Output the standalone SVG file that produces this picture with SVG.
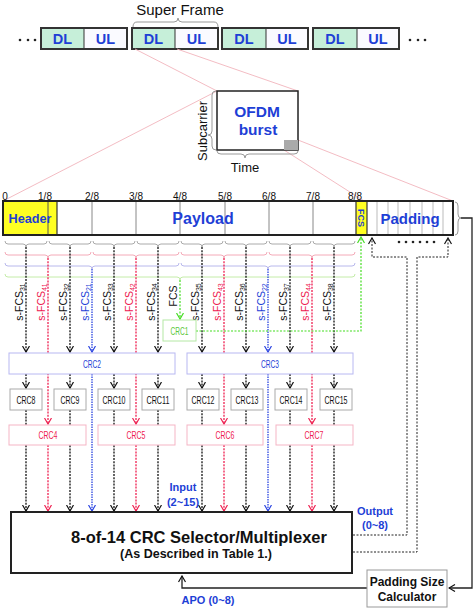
<svg xmlns="http://www.w3.org/2000/svg" width="474" height="610" viewBox="0 0 474 610">
<style>
text{font-family:"Liberation Sans",Arial,sans-serif}
.b{font-weight:bold}
.blue{fill:#1e3fd6}
.red{fill:#ee2050}
.blk{fill:#111}
.pink{stroke:#f2b4bc;stroke-width:0.9;fill:none}
.brace{fill:none;stroke-width:1}
.dk{stroke:#111;stroke-width:1.3;stroke-dasharray:2 1.2;fill:none}
.dr{stroke:#ee2050;stroke-width:1.3;stroke-dasharray:2 1.2;fill:none}
.db{stroke:#2a44e0;stroke-width:1.3;stroke-dasharray:1.5 1;fill:none}
.dg{stroke:#44dd22;stroke-width:1.2;stroke-dasharray:2 1.5;fill:none}
.dd{stroke:#222;stroke-width:1;stroke-dasharray:2 1.5;fill:none}
.crcg{fill:#fff;stroke:#aaa;stroke-width:1}
.crcb{fill:#fff;stroke:#b8b8f2;stroke-width:1}
.crcr{fill:#fff;stroke:#f5b5c5;stroke-width:1}
.crct{font-size:10.5px;text-anchor:middle}
.lab{font-size:10.5px;text-anchor:middle}
</style>
<defs>
<marker id="ak" viewBox="0 0 8 8" refX="6.5" refY="4" markerWidth="8" markerHeight="8" markerUnits="userSpaceOnUse" orient="auto"><path d="M0.5,0.5 L6.5,4 L0.5,7.5" fill="none" stroke="#111" stroke-width="1.2"/></marker>
<marker id="ar" viewBox="0 0 8 8" refX="6.5" refY="4" markerWidth="8" markerHeight="8" markerUnits="userSpaceOnUse" orient="auto"><path d="M0.5,0.5 L6.5,4 L0.5,7.5" fill="none" stroke="#ee2050" stroke-width="1.2"/></marker>
<marker id="ab" viewBox="0 0 8 8" refX="6.5" refY="4" markerWidth="8" markerHeight="8" markerUnits="userSpaceOnUse" orient="auto"><path d="M0.5,0.5 L6.5,4 L0.5,7.5" fill="none" stroke="#2a44e0" stroke-width="1.2"/></marker>
<marker id="ag" viewBox="0 0 8 8" refX="6.5" refY="4" markerWidth="8" markerHeight="8" markerUnits="userSpaceOnUse" orient="auto"><path d="M0.5,0.5 L6.5,4 L0.5,7.5" fill="none" stroke="#44dd22" stroke-width="1.2"/></marker>
</defs>
<rect width="474" height="610" fill="#fff"/>

<!-- Super frame -->
<g id="superframe">
<text x="180" y="15" font-size="15" text-anchor="middle" fill="#111">Super Frame</text>
<path d="M133,27 Q133,22 137,22 L174,22 Q178,22 178,18 Q178,22 182,22 L214,22 Q218,22 218,27" fill="none" stroke="#999" stroke-width="1"/>
<g fill="#222"><circle cx="20" cy="40" r="1.3"/><circle cx="28" cy="40" r="1.3"/><circle cx="35" cy="40" r="1.3"/><circle cx="410" cy="40" r="1.3"/><circle cx="418" cy="40" r="1.3"/><circle cx="425" cy="40" r="1.3"/></g>
<g id="frame1"><rect x="41" y="28" width="43" height="21" fill="#c6efd9"/><rect x="84" y="28" width="43" height="21" fill="#fafaff"/><line x1="84" y1="28" x2="84" y2="49" stroke="#333"/><rect x="41" y="28" width="86" height="21" fill="none" stroke="#333" stroke-width="2"/><text x="62.5" y="44" class="b blue" font-size="14.5" text-anchor="middle">DL</text><text x="105.5" y="44" class="b blue" font-size="14.5" text-anchor="middle">UL</text></g>
<g id="frame2"><rect x="132" y="28" width="43" height="21" fill="#c6efd9"/><rect x="175" y="28" width="43" height="21" fill="#fafaff"/><line x1="175" y1="28" x2="175" y2="49" stroke="#333"/><rect x="132" y="28" width="86" height="21" fill="none" stroke="#333" stroke-width="2"/><text x="153.5" y="44" class="b blue" font-size="14.5" text-anchor="middle">DL</text><text x="196.5" y="44" class="b blue" font-size="14.5" text-anchor="middle">UL</text></g>
<g id="frame3"><rect x="222" y="28" width="44" height="21" fill="#c6efd9"/><rect x="266" y="28" width="42" height="21" fill="#fafaff"/><line x1="266" y1="28" x2="266" y2="49" stroke="#333"/><rect x="222" y="28" width="86" height="21" fill="none" stroke="#333" stroke-width="2"/><text x="244" y="44" class="b blue" font-size="14.5" text-anchor="middle">DL</text><text x="287" y="44" class="b blue" font-size="14.5" text-anchor="middle">UL</text></g>
<g id="frame4"><rect x="313" y="28" width="44" height="21" fill="#c6efd9"/><rect x="357" y="28" width="42" height="21" fill="#fafaff"/><line x1="357" y1="28" x2="357" y2="49" stroke="#333"/><rect x="313" y="28" width="86" height="21" fill="none" stroke="#333" stroke-width="2"/><text x="335" y="44" class="b blue" font-size="14.5" text-anchor="middle">DL</text><text x="378" y="44" class="b blue" font-size="14.5" text-anchor="middle">UL</text></g>
</g>

<!-- zoom lines -->
<g id="zoomlines">
<line class="pink" x1="135" y1="49" x2="217" y2="91"/>
<line class="pink" x1="177" y1="49" x2="298" y2="91"/>
<line class="pink" x1="3" y1="201" x2="217" y2="91"/>
<line class="pink" x1="284" y1="150" x2="364" y2="201"/>
<line class="pink" x1="298" y1="140" x2="453" y2="201"/>
</g>

<!-- OFDM burst -->
<g id="ofdm">
<rect x="217" y="91" width="81" height="59" fill="#fff" stroke="#222" stroke-width="1.5"/>
<rect x="284" y="140" width="14" height="10" fill="#aaa"/>
<text x="257" y="117" class="b blue" font-size="15.5" text-anchor="middle">OFDM</text>
<text x="258" y="135" class="b blue" font-size="15.5" text-anchor="middle">burst</text>
<path d="M216,91 Q212,91 212,95 L212,131 Q212,135 208,135 Q212,135 212,139 L212,146 Q212,150 216,150" fill="none" stroke="#999"/>
<text transform="translate(207,131) rotate(-90)" font-size="13" text-anchor="middle" fill="#111">Subcarrier</text>
<path d="M217,151 Q217,154 221,154 L241,154 Q245,154 245,158 Q245,154 249,154 L294,154 Q298,154 298,151" fill="none" stroke="#999"/>
<text x="245" y="172" font-size="13" text-anchor="middle" fill="#111">Time</text>
</g>

<!-- Frame bar -->
<g id="framebar">
<g font-size="10" text-anchor="middle" fill="#111">
<text x="5" y="200">0</text><text x="45" y="200">1/8</text><text x="92" y="200">2/8</text><text x="136" y="200">3/8</text><text x="180" y="200">4/8</text><text x="225" y="200">5/8</text><text x="269" y="200">6/8</text><text x="313" y="200">7/8</text><text x="355" y="200">8/8</text>
</g>
<rect x="3" y="201" width="450" height="34" fill="#fff"/>
<rect x="3" y="201" width="54" height="34" fill="#ffff22"/>
<rect x="356" y="201" width="11" height="34" fill="#ffff22"/>
<g stroke="#888" stroke-width="1">
<line x1="92" y1="202" x2="92" y2="234"/><line x1="136" y1="202" x2="136" y2="234"/><line x1="180" y1="202" x2="180" y2="234"/><line x1="225" y1="202" x2="225" y2="234"/><line x1="269" y1="202" x2="269" y2="234"/><line x1="313" y1="202" x2="313" y2="234"/>
</g>
<g stroke="#aaa" stroke-width="0.8">
<line x1="377" y1="202" x2="377" y2="234"/><line x1="388" y1="202" x2="388" y2="234"/><line x1="398" y1="202" x2="398" y2="234"/><line x1="410" y1="202" x2="410" y2="234"/><line x1="422" y1="202" x2="422" y2="234"/><line x1="433" y1="202" x2="433" y2="234"/><line x1="443" y1="202" x2="443" y2="234"/>
</g>
<line x1="48" y1="202" x2="48" y2="234" stroke="#555"/>
<line x1="57" y1="201" x2="57" y2="235" stroke="#333" stroke-width="1.2"/>
<line x1="356" y1="201" x2="356" y2="235" stroke="#333" stroke-width="1.2"/>
<line x1="367" y1="201" x2="367" y2="235" stroke="#333" stroke-width="1.2"/>
<rect x="3" y="201" width="450" height="34" fill="none" stroke="#222" stroke-width="2"/>
<text x="30" y="223" class="b blue" font-size="13" text-anchor="middle" textLength="43" lengthAdjust="spacingAndGlyphs">Header</text>
<text x="203" y="224" class="b blue" font-size="16" text-anchor="middle">Payload</text>
<text x="410" y="224" class="b blue" font-size="15" text-anchor="middle">Padding</text>
<text transform="translate(358,218) rotate(90)" class="b blue" font-size="9" text-anchor="middle">FCS</text>
<path d="M455,202 Q458,202 458,206 L458,214 Q458,218 461,218 Q458,218 458,222 L458,231 Q458,235 455,235" fill="none" stroke="#999"/>
</g>

<!-- braces under bar -->
<g id="braces">
<path class="brace" stroke="#aaa" d="M5,241 Q5,244 8,244 L23,244 Q26,244 26,247 Q26,244 29,244 L44,244 Q47,244 47,241 M49,241 Q49,244 52,244 L67,244 Q70,244 70,247 Q70,244 73,244 L88,244 Q91,244 91,241 M93,241 Q93,244 96,244 L111,244 Q114,244 114,247 Q114,244 117,244 L132,244 Q135,244 135,241 M137,241 Q137,244 140,244 L155,244 Q158,244 158,247 Q158,244 161,244 L176,244 Q179,244 179,241 M181,241 Q181,244 184,244 L199,244 Q202,244 202,247 Q202,244 205,244 L220,244 Q223,244 223,241 M225,241 Q225,244 228,244 L243,244 Q246,244 246,247 Q246,244 249,244 L264,244 Q267,244 267,241 M269,241 Q269,244 272,244 L287,244 Q290,244 290,247 Q290,244 293,244 L308,244 Q311,244 311,241 M313,241 Q313,244 316,244 L331,244 Q334,244 334,247 Q334,244 337,244 L352,244 Q355,244 355,241"/>
<path class="brace" stroke="#f4aab8" d="M5,252 Q5,255 8,255 L45,255 Q48,255 48,258 Q48,255 51,255 L88,255 Q91,255 91,252 M93,252 Q93,255 96,255 L133,255 Q136,255 136,258 Q136,255 139,255 L176,255 Q179,255 179,252 M181,252 Q181,255 184,255 L221,255 Q224,255 224,258 Q224,255 227,255 L264,255 Q267,255 267,252 M269,252 Q269,255 272,255 L309,255 Q312,255 312,258 Q312,255 315,255 L352,255 Q355,255 355,252"/>
<path class="brace" stroke="#b8b8ec" d="M5,263 Q5,266 8,266 L89,266 Q92,266 92,269 Q92,266 95,266 L176,266 Q179,266 179,263 M181,263 Q181,266 184,266 L265,266 Q268,266 268,269 Q268,266 271,266 L352,266 Q355,266 355,263"/>
<path class="brace" stroke="#c4eca8" d="M5,274 Q5,277 8,277 L177,277 Q180,277 180,280 Q180,277 183,277 L352,277 Q355,277 355,274"/>
</g>

<!-- connectors -->
<g id="connectors">
<path class="dk" d="M26,247 V352" marker-end="url(#ak)"/>
<path class="dk" d="M26,374 V388" marker-end="url(#ak)"/>
<path class="dk" d="M26,410 V511" marker-end="url(#ak)"/>
<path class="dk" d="M70,247 V352" marker-end="url(#ak)"/>
<path class="dk" d="M70,374 V388" marker-end="url(#ak)"/>
<path class="dk" d="M70,410 V511" marker-end="url(#ak)"/>
<path class="dk" d="M114,247 V352" marker-end="url(#ak)"/>
<path class="dk" d="M114,374 V388" marker-end="url(#ak)"/>
<path class="dk" d="M114,410 V511" marker-end="url(#ak)"/>
<path class="dk" d="M158,247 V352" marker-end="url(#ak)"/>
<path class="dk" d="M158,374 V388" marker-end="url(#ak)"/>
<path class="dk" d="M158,410 V511" marker-end="url(#ak)"/>
<path class="dk" d="M202,247 V352" marker-end="url(#ak)"/>
<path class="dk" d="M202,374 V388" marker-end="url(#ak)"/>
<path class="dk" d="M202,410 V511" marker-end="url(#ak)"/>
<path class="dk" d="M246,247 V352" marker-end="url(#ak)"/>
<path class="dk" d="M246,374 V388" marker-end="url(#ak)"/>
<path class="dk" d="M246,410 V511" marker-end="url(#ak)"/>
<path class="dk" d="M290,247 V352" marker-end="url(#ak)"/>
<path class="dk" d="M290,374 V388" marker-end="url(#ak)"/>
<path class="dk" d="M290,410 V511" marker-end="url(#ak)"/>
<path class="dk" d="M334,247 V352" marker-end="url(#ak)"/>
<path class="dk" d="M334,374 V388" marker-end="url(#ak)"/>
<path class="dk" d="M334,410 V511" marker-end="url(#ak)"/>
<path class="dr" d="M48,258 V424" marker-end="url(#ar)"/>
<path class="dr" d="M48,445 V511" marker-end="url(#ar)"/>
<path class="dr" d="M136,258 V424" marker-end="url(#ar)"/>
<path class="dr" d="M136,445 V511" marker-end="url(#ar)"/>
<path class="dr" d="M224,258 V424" marker-end="url(#ar)"/>
<path class="dr" d="M224,445 V511" marker-end="url(#ar)"/>
<path class="dr" d="M312,258 V424" marker-end="url(#ar)"/>
<path class="dr" d="M312,445 V511" marker-end="url(#ar)"/>
<path class="db" d="M92,269 V352" marker-end="url(#ab)"/>
<path class="db" d="M92,374 V511" marker-end="url(#ab)"/>
<path class="db" d="M268,269 V352" marker-end="url(#ab)"/>
<path class="db" d="M268,374 V511" marker-end="url(#ab)"/>
<path class="dg" d="M180,280 V319" marker-end="url(#ag)"/>
<path class="dg" d="M196,331 H361 V237" marker-end="url(#ag)"/>
<path class="dd" d="M353,535 H407 V257 H372 V238" marker-end="url(#ak)"/>
<path class="dd" d="M353,552 H417 V257 H448 V238" marker-end="url(#ak)"/>
<g fill="#222"><circle cx="399" cy="242" r="1.3"/><circle cx="406" cy="242" r="1.3"/><circle cx="413" cy="242" r="1.3"/><circle cx="420" cy="242" r="1.3"/><circle cx="427" cy="242" r="1.3"/><circle cx="434" cy="242" r="1.3"/></g>
<path d="M461,218 H472 V588 H449" fill="none" stroke="#222" stroke-width="1.3" marker-end="url(#ak)"/>
<path d="M367,588 H182 V576" fill="none" stroke="#222" stroke-width="1.3" marker-end="url(#ak)"/>
</g>

<!-- s-FCS labels -->
<g id="labels">
<text class="lab blk" transform="translate(23,302) rotate(-90)">s-FCS<tspan font-size="7" dy="2">31</tspan></text>
<text class="lab red" transform="translate(45,302) rotate(-90)">s-FCS<tspan font-size="7" dy="2">41</tspan></text>
<text class="lab blk" transform="translate(67,302) rotate(-90)">s-FCS<tspan font-size="7" dy="2">32</tspan></text>
<text class="lab blue" transform="translate(89,302) rotate(-90)">s-FCS<tspan font-size="7" dy="2">21</tspan></text>
<text class="lab blk" transform="translate(111,302) rotate(-90)">s-FCS<tspan font-size="7" dy="2">33</tspan></text>
<text class="lab red" transform="translate(133,302) rotate(-90)">s-FCS<tspan font-size="7" dy="2">42</tspan></text>
<text class="lab blk" transform="translate(155,302) rotate(-90)">s-FCS<tspan font-size="7" dy="2">34</tspan></text>
<text class="lab blk" transform="translate(177,296) rotate(-90)">FCS</text>
<text class="lab blk" transform="translate(199,302) rotate(-90)">s-FCS<tspan font-size="7" dy="2">35</tspan></text>
<text class="lab red" transform="translate(221,302) rotate(-90)">s-FCS<tspan font-size="7" dy="2">43</tspan></text>
<text class="lab blk" transform="translate(243,302) rotate(-90)">s-FCS<tspan font-size="7" dy="2">36</tspan></text>
<text class="lab blue" transform="translate(265,302) rotate(-90)">s-FCS<tspan font-size="7" dy="2">22</tspan></text>
<text class="lab blk" transform="translate(287,302) rotate(-90)">s-FCS<tspan font-size="7" dy="2">37</tspan></text>
<text class="lab red" transform="translate(309,302) rotate(-90)">s-FCS<tspan font-size="7" dy="2">44</tspan></text>
<text class="lab blk" transform="translate(331,302) rotate(-90)">s-FCS<tspan font-size="7" dy="2">38</tspan></text>
</g>

<!-- CRC nodes -->
<g id="crc1"><rect x="163" y="320" width="33" height="21" fill="#fff" stroke="#b4e8a4"/><text x="179.5" y="334.5" class="crct" fill="#5cc83c" textLength="18" lengthAdjust="spacingAndGlyphs">CRC1</text></g>
<g id="crc2"><rect class="crcb" x="9" y="353" width="166" height="21"/><text x="92" y="367.5" class="crct blue" textLength="18" lengthAdjust="spacingAndGlyphs">CRC2</text></g>
<g id="crc3"><rect class="crcb" x="187" y="353" width="166" height="21"/><text x="270" y="367.5" class="crct blue" textLength="18" lengthAdjust="spacingAndGlyphs">CRC3</text></g>
<g id="crc8"><rect class="crcg" x="10" y="389" width="32" height="21"/><text x="26" y="403.5" class="crct blk" textLength="19" lengthAdjust="spacingAndGlyphs">CRC8</text></g>
<g id="crc9"><rect class="crcg" x="54" y="389" width="32" height="21"/><text x="70" y="403.5" class="crct blk" textLength="19" lengthAdjust="spacingAndGlyphs">CRC9</text></g>
<g id="crc10"><rect class="crcg" x="98" y="389" width="32" height="21"/><text x="114" y="403.5" class="crct blk" textLength="23" lengthAdjust="spacingAndGlyphs">CRC10</text></g>
<g id="crc11"><rect class="crcg" x="142" y="389" width="32" height="21"/><text x="158" y="403.5" class="crct blk" textLength="23" lengthAdjust="spacingAndGlyphs">CRC11</text></g>
<g id="crc12"><rect class="crcg" x="187" y="389" width="32" height="21"/><text x="203" y="403.5" class="crct blk" textLength="23" lengthAdjust="spacingAndGlyphs">CRC12</text></g>
<g id="crc13"><rect class="crcg" x="231" y="389" width="32" height="21"/><text x="247" y="403.5" class="crct blk" textLength="23" lengthAdjust="spacingAndGlyphs">CRC13</text></g>
<g id="crc14"><rect class="crcg" x="275" y="389" width="32" height="21"/><text x="291" y="403.5" class="crct blk" textLength="23" lengthAdjust="spacingAndGlyphs">CRC14</text></g>
<g id="crc15"><rect class="crcg" x="320" y="389" width="32" height="21"/><text x="336" y="403.5" class="crct blk" textLength="23" lengthAdjust="spacingAndGlyphs">CRC15</text></g>
<g id="crc4"><rect class="crcr" x="9" y="425" width="77" height="20"/><text x="48" y="439" class="crct red" textLength="19" lengthAdjust="spacingAndGlyphs">CRC4</text></g>
<g id="crc5"><rect class="crcr" x="98" y="425" width="77" height="20"/><text x="136" y="439" class="crct red" textLength="19" lengthAdjust="spacingAndGlyphs">CRC5</text></g>
<g id="crc6"><rect class="crcr" x="187" y="425" width="76" height="20"/><text x="225" y="439" class="crct red" textLength="19" lengthAdjust="spacingAndGlyphs">CRC6</text></g>
<g id="crc7"><rect class="crcr" x="276" y="425" width="77" height="20"/><text x="314" y="439" class="crct red" textLength="19" lengthAdjust="spacingAndGlyphs">CRC7</text></g>

<!-- Selector -->
<g id="selector">
<rect x="11" y="512" width="341" height="61" fill="#fff" stroke="#222" stroke-width="2"/>
<text x="199" y="543" class="b" font-size="16.5" text-anchor="middle" fill="#111">8-of-14 CRC Selector/Multiplexer</text>
<text x="196" y="558" class="b" font-size="12.5" text-anchor="middle" fill="#111">(As Described in Table 1.)</text>
</g>
<g id="padcalc">
<rect x="367" y="570" width="80" height="37" fill="#fff" stroke="#999"/>
<text x="407" y="586" class="b" font-size="12" text-anchor="middle" fill="#111">Padding Size</text>
<text x="407" y="601" class="b" font-size="12" text-anchor="middle" fill="#111">Calculator</text>
</g>
<g id="annot">
<text x="183" y="491" class="b blue" font-size="11" text-anchor="middle">Input</text>
<text x="183" y="506" class="b blue" font-size="11" text-anchor="middle">(2~15)</text>
<text x="375" y="515" class="b blue" font-size="11" text-anchor="middle">Output</text>
<text x="375" y="529" class="b blue" font-size="11" text-anchor="middle">(0~8)</text>
<text x="208" y="604" class="b blue" font-size="11" text-anchor="middle">APO (0~8)</text>
</g>
</svg>
